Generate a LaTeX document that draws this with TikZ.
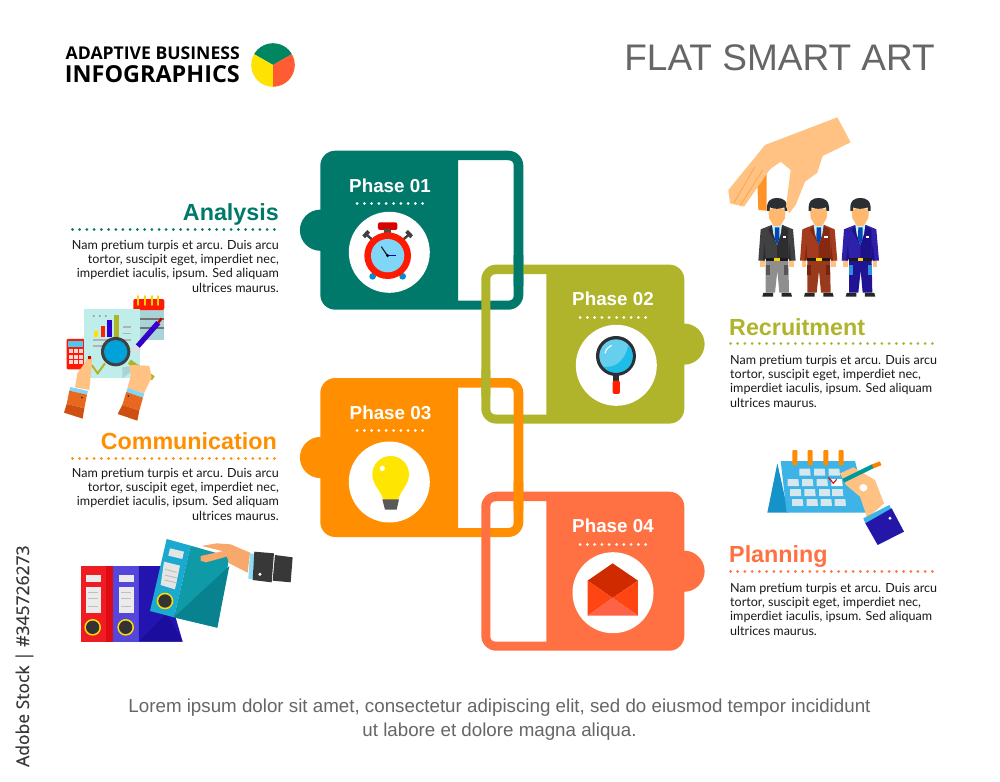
\documentclass[tikz,border=0pt]{standalone}
\usepackage{fontspec}
\setmainfont{Liberation Sans}
\newfontfamily\opensans{Open Sans}
\newfontfamily\opensansfb[FakeBold=0.5]{Open Sans}
\newfontfamily\lato{Lato}
\definecolor{cTeal}{HTML}{00796B}
\definecolor{cOlive}{HTML}{AFB42B}
\definecolor{cOrange}{HTML}{FF8F00}
\definecolor{cCoral}{HTML}{FF7043}
\definecolor{cSkin}{HTML}{FFC282}
\definecolor{cInk}{HTML}{2B2F33}
\definecolor{cGreyJ}{HTML}{414144}\definecolor{cGreyD}{HTML}{2E2E30}\definecolor{cGreyP}{HTML}{8E8E8E}\definecolor{cGreyK}{HTML}{56565A}
\definecolor{cBrownJ}{HTML}{A33B1E}\definecolor{cBrownD}{HTML}{852A10}\definecolor{cBrownP}{HTML}{9A3A1C}\definecolor{cBrownK}{HTML}{742510}
\definecolor{cNavyJ}{HTML}{2E20A8}\definecolor{cNavyD}{HTML}{1C1188}\definecolor{cNavyP}{HTML}{201394}\definecolor{cNavyK}{HTML}{2F8FD8}
\newcommand{\fsz}[2]{\fontsize{#1}{#2}\selectfont}
% puzzle with tab on the left, window on the right: #1 top y, #2 colour
\newcommand{\PuzzleA}[2]{%
  \fill[#2,even odd rule,rounded corners=15pt] (320.3,#1) rectangle (523.3,#1+159)
    [sharp corners] (458,#1+9.5) -- (508,#1+9.5) .. controls (512,#1+9.5) and (513.7,#1+11.5) .. (513.7,#1+15)
    -- (513.7,#1+144.5) .. controls (513.7,#1+148) and (512,#1+150) .. (508,#1+150) -- (458,#1+150) -- cycle;
  \fill[#2] (320.5,#1+79.5) circle[radius=20.6];}
% puzzle with tab on the right, window on the left
\newcommand{\PuzzleB}[2]{%
  \fill[#2,even odd rule,rounded corners=15pt] (481.3,#1) rectangle (684.3,#1+159)
    [sharp corners] (546.3,#1+9.5) -- (496.3,#1+9.5) .. controls (492.3,#1+9.5) and (490.3,#1+11.5) .. (490.3,#1+15)
    -- (490.3,#1+144.5) .. controls (490.3,#1+148) and (492.3,#1+150) .. (496.3,#1+150) -- (546.3,#1+150) -- cycle;
  \fill[#2] (684,#1+79.5) circle[radius=20.6];}
\newcommand{\DotsWhite}[2]{\draw[white,line width=3pt,line cap=round,dash pattern=on 0.01pt off 7.29pt] (#1,#2) -- ++(67,0);}
\newcommand{\Rule}[3]{\draw[#3,line width=3pt,line cap=round,dash pattern=on 0.01pt off 7.2pt] (#1,#2) -- ++(207,0);}
% one man, zoom-5 coordinates; #1 x shift #2 jacket #3 dark #4 trousers #5 pocket
\newcommand{\Person}[5]{%
\begin{scope}[shift={(#1,0)}]
 \fill[cSkin] (120,450) rectangle (134,472); \fill[cSkin] (208,450) rectangle (222,472);
 \fill[#4] (137,452) -- (205,452) -- (207,548) -- (178,548) -- (172,482) -- (165,548) -- (137,548) -- cycle;
 \fill[#5] (137,465) rectangle (149,496); \fill[#5] (193,465) rectangle (205,496);
 \fill[black!85] (127,560) -- (130,549) -- (159,549) -- (159,560) -- cycle;
 \fill[black!85] (185,560) -- (185,549) -- (213,549) -- (216,560) -- cycle;
 \fill[#2] (155,345) -- (188,345) -- (219,358) -- (227,452) -- (208,452) -- (205,445) -- (137,445) -- (134,452) -- (115,452) -- (122,358) -- cycle;
 \fill[#3] (171,405) -- (190,350) -- (204,358) -- (205,445) -- (171,445) -- cycle;
 \fill[#3] (134,400) -- (137,445) -- (132,452) -- (128,452) -- cycle;
 \fill[#3] (208,400) -- (205,445) -- (210,452) -- (214,452) -- cycle;
 \fill[#3] (157,345) -- (171,405) -- (145,360) -- cycle;
 \fill[#3] (185,345) -- (171,405) -- (197,360) -- cycle;
 \fill[black!90] (137,445) rectangle (205,452);
 \fill[yellow!70!orange] (163,444) rectangle (180,453);
 \fill[cyan!20] (155,338) -- (187,338) -- (182,372) -- (171,405) -- (160,372) -- cycle;
 \fill[blue!60!cyan!70!black] (165,352) -- (178,352) -- (178,385) -- (171,405) -- (164,385) -- cycle;
 \fill[white] (188,378) rectangle (198,383);
 \fill[cSkin!85!orange] (145,296) -- (197,296) -- (195,325) -- (180,348) -- (162,348) -- (147,325) -- cycle;
 \fill[cInk] (141,303) .. controls (138,270) and (155,264) .. (171,264) .. controls (190,264) and (204,272) .. (202,303)
   -- (195,303) -- (193,292) .. controls (180,298) and (160,298) .. (150,292) -- (148,303) -- cycle;
\end{scope}}
\begin{document}
\begin{tikzpicture}[x=1pt,y=-1pt,
  phaselabel/.style={anchor=base,text=white,font=\bfseries\fsz{18.8}{20}},
  heading/.style={font=\bfseries\fsz{23.3}{25}},
  bodytext/.style={font=\lato\fsz{12.55}{14.2}\selectfont,text=black!90,inner sep=0pt}]
\useasboundingbox (0,0) rectangle (1000,781);
\fill[white] (0,0) rectangle (1000,781);

% ---------- header
\node[anchor=base east,inner sep=0pt,font=\opensans\bfseries\fsz{17.6}{18}] (brand1) at (240,60) {ADAPTIVE BUSINESS};
\node[anchor=base east,inner sep=0pt,font=\opensans\bfseries\fsz{23.4}{24}] (brand2) at (240,83) {INFOGRAPHICS};
\begin{scope}
 \clip (273,65) circle[radius=21.8];
 \fill[cTeal!90!green] (273,65) -- (233,42) -- (233,30) -- (313,30) -- (313,42) -- cycle;
 \fill[yellow!85!orange] (273,65) -- (233,42) -- (233,110) -- (273,110) -- cycle;
 \fill[red!60!orange!80!white] (273,65) -- (313,42) -- (313,110) -- (273,110) -- cycle;
\end{scope}
\node[anchor=base east,inner sep=0pt,text=black!60,font=\fsz{37}{40}] (title) at (935,71) {FLAT SMART ART};

% ---------- puzzle pieces, woven
\PuzzleA{150.7}{cTeal}
\PuzzleB{264.6}{cOlive}
\begin{scope}\clip (510,255) rectangle (530,285); \PuzzleA{150.7}{cTeal}\end{scope}
\PuzzleA{378}{cOrange}
\begin{scope}\clip (475,370) rectangle (492,395); \PuzzleB{264.6}{cOlive}\end{scope}
\PuzzleB{491.7}{cCoral}
\begin{scope}\clip (510,482) rectangle (530,510); \PuzzleA{378}{cOrange}\end{scope}

\node[phaselabel] (p1) at (390,192) {Phase 01};
\node[phaselabel] (p2) at (613,305.7) {Phase 02};
\node[phaselabel] (p3) at (390.5,419) {Phase 03};
\node[phaselabel] (p4) at (613,532.7) {Phase 04};
\DotsWhite{357}{203.4}
\DotsWhite{580}{317.7}
\DotsWhite{357}{430}
\DotsWhite{580}{544}
\fill[white] (389.3,252.3) circle[radius=40.5];
\fill[white] (616.3,365.3) circle[radius=40.5];
\fill[white] (389.3,482) circle[radius=40.5];
\fill[white] (613,592.7) circle[radius=40.5];

% ---------- clock
\begin{scope}[shift={(290,140)},scale=0.3333]
 \fill[red!85!black,rounded corners=2pt] (264,247) rectangle (322,270);
 \fill[black!70] (283,268) rectangle (303,285);
 \draw[black!75,line width=2.4pt] (225,280) -- (250,302);
 \draw[black!75,line width=2.4pt] (361,280) -- (336,302);
 \fill[black!75] (217,286) -- (232,270) -- (240,278) -- (225,295) -- cycle;
 \fill[black!75] (369,286) -- (354,270) -- (346,278) -- (361,295) -- cycle;
 \fill[blue!30!cyan!80!black] (248,409) circle[radius=10];
 \fill[blue!30!cyan!80!black] (338,409) circle[radius=10];
 \fill[red!80!orange] (293,347) circle[radius=70];
 \fill[cyan!50!white] (293,347) circle[radius=50];
 \draw[black!85,line width=1.2pt] (293,348) -- (274,320);
 \draw[blue!80!black,line width=1.2pt] (293,347) -- (319,347);
 \fill[black] (293,347) circle[radius=5];
\end{scope}
% ---------- magnifier
\begin{scope}[shift={(290,140)},scale=0.3333]
 \definecolor{gBase}{HTML}{1CBDE8}\definecolor{gLight}{HTML}{66CFEE}
 \fill[cInk] (970,700) rectangle (988,725);
 \fill[red!75!orange,rounded corners=2pt] (968,722) rectangle (990,762);
 \fill[cInk] (978,648) circle[radius=60];
 \fill[gLight] (978,648) circle[radius=50];
 \fill[gBase] (1028,648) .. controls (1028,680) and (1005,698) .. (978,698) .. controls (960,698) and (948,690) .. (940,680) .. controls (975,685) and (1005,665) .. (1015,615) .. controls (1024,625) and (1028,635) .. (1028,648) -- cycle;
 \draw[white,line width=1.1pt] (945,640) .. controls (948,628) and (955,620) .. (965,616);
\end{scope}
% ---------- bulb and envelope
\begin{scope}[shift={(290,370)},scale=0.3333]
 \definecolor{eA}{HTML}{D02B00}\definecolor{eB}{HTML}{FF4511}\definecolor{eC}{HTML}{FF6347}
 \fill[yellow!88!orange] (280,390) .. controls (275,365) and (247,345) .. (247,313) .. controls (247,282) and (272,258) .. (302,258)
   .. controls (332,258) and (357,282) .. (357,313) .. controls (357,345) and (329,365) .. (324,390) -- cycle;
 \fill[white] (277,295) circle[radius=8];
 \fill[black!65] (277,388) -- (327,388) -- (320,419) -- (285,419) -- cycle;
 \fill[eA] (893,632) -- (968,580) -- (1044,632) -- (968,684) -- cycle;
 \fill[eB] (893,632) -- (968,684) -- (893,737) -- cycle;
 \fill[eB] (1044,632) -- (968,684) -- (1044,737) -- cycle;
 \fill[eC] (893,737) -- (968,684) -- (1044,737) -- cycle;
\end{scope}

% ---------- side texts
\node[anchor=base east,inner sep=0pt,heading,text=cTeal] (h1) at (279,220) {Analysis};
\Rule{72.5}{229}{cTeal}
\node[anchor=north east,align=right,bodytext] (b1) at (279,240) {Nam pretium turpis et arcu. Duis arcu\\tortor, suscipit eget, imperdiet nec,\\imperdiet iaculis, ipsum. Sed aliquam\\ultrices maurus.};
\node[anchor=base east,inner sep=0pt,heading,text=cOrange] (h3) at (277,449) {Communication};
\Rule{72.5}{458}{cOrange}
\node[anchor=north east,align=right,bodytext] (b3) at (279,468) {Nam pretium turpis et arcu. Duis arcu\\tortor, suscipit eget, imperdiet nec,\\imperdiet iaculis, ipsum. Sed aliquam\\ultrices maurus.};
\node[anchor=base west,inner sep=0pt,heading,text=cOlive] (h2) at (729,335) {Recruitment};
\Rule{730.5}{343}{cOlive}
\node[anchor=north west,align=left,bodytext] (b2) at (730,355) {Nam pretium turpis et arcu. Duis arcu\\tortor, suscipit eget, imperdiet nec,\\imperdiet iaculis, ipsum. Sed aliquam\\ultrices maurus.};
\node[anchor=base west,inner sep=0pt,heading,text=cCoral] (h4) at (729,562) {Planning};
\Rule{730.5}{571}{cCoral}
\node[anchor=north west,align=left,bodytext] (b4) at (730,583) {Nam pretium turpis et arcu. Duis arcu\\tortor, suscipit eget, imperdiet nec,\\imperdiet iaculis, ipsum. Sed aliquam\\ultrices maurus.};

% ---------- footer
\node[anchor=north,align=center,inner sep=0pt,text=black!60,font=\fsz{18.75}{23.6}] (foot) at (499.5,699) {Lorem ipsum dolor sit amet, consectetur adipiscing elit, sed do eiusmod tempor incididunt\\ut labore et dolore magna aliqua.};
\node[rotate=90,anchor=base west,inner sep=0pt,text=black!78,font=\opensansfb\fsz{17.5}{18}] (stock) at (29,767) {Adobe Stock \textbar{} \#345726273};

% ---------- analysis illustration
\begin{scope}[shift={(50,290)},scale=0.3333]
 \definecolor{aDoc}{HTML}{BFEDEA}\definecolor{aCal}{HTML}{A9D3D6}\definecolor{aSl}{HTML}{E8681F}\definecolor{aSd}{HTML}{CF4F10}
 \fill[aCal] (250,55) rectangle (343,150);
 \fill[red!80!orange,rounded corners=2pt] (250,27) rectangle (343,60);
 \foreach \x in {265,285,305,325}{\draw[yellow!70!orange,line width=1.8pt,line cap=round] (\x,18) -- (\x,45);}
 \fill[black!55] (270,83) rectangle (343,90); \fill[black!55] (270,110) rectangle (343,116);
 \fill[red!80!orange,rounded corners=1pt] (50,147) rectangle (105,238);
 \fill[cyan!70!white] (55,152) rectangle (100,170);
 \foreach \x in {56,72,88}{\foreach \y in {178,194,210}{\fill[white!85!red] (\x,\y) rectangle ++(12,12);}}
 \fill[aDoc] (102,56) rectangle (270,265);
 \fill[aCal] (217,265) -- (217,232) -- (270,225) -- cycle;
 \fill[yellow!85!orange] (131,124) rectangle (145,140);
 \fill[red!75!orange] (152,108) rectangle (165,140);
 \fill[blue!65!violet] (172,91) rectangle (187,140);
 \fill[cOlive] (192,75) rectangle (206,140);
 \foreach \y in {108,128,148}{\fill[black!30] (218,\y) rectangle (242,\y+5);}
 \foreach \y in {148,165}{\fill[black!30] (130,\y) rectangle (190,\y+5);}
 \foreach \x in {132,150,168}{\fill[black!45] (\x,78) circle[radius=3];}
 \draw[cOlive,line width=2pt] (125,225) -- (143,250) -- (165,220);
 % pen
 \draw[blue!60!violet,line width=5.2pt] (262,170) -- (325,98);
 \draw[red!80!black,line width=2.4pt] (325,98) -- (335,85);
 \fill[black!12] (246,192) -- (254,161) -- (274,178) -- cycle;
 % magnifier
 \draw[cOlive,line width=5pt] (238,215) -- (310,265);
 \fill[black!75] (197,185) circle[radius=44];
 \fill[blue!25!cyan!85!black] (197,185) circle[radius=35];
 % hands
 \fill[cSkin] (118,197) .. controls (126,197) and (128,205) .. (126,215) -- (118,300) -- (75,292) -- (82,250) -- (100,225) -- cycle;
 \fill[red!80!black] (115,197) rectangle (124,208);
 \fill[cyan!50!white] (61,291) -- (114,303) -- (111,314) -- (58,302) -- cycle;
 \fill[aSl] (58,302) -- (111,314) -- (103,355) -- (50,342) -- cycle;
 \fill[aSd] (50,342) -- (103,355) -- (98,386) -- (42,368) -- cycle;
 \fill[cSkin] (237,228) -- (250,225) -- (298,228) -- (305,262) -- (282,310) -- (232,295) -- (243,255) -- cycle;
 \fill[cyan!50!white] (233,294) -- (283,311) -- (279,323) -- (229,306) -- cycle;
 \fill[aSl] (229,306) -- (279,323) -- (268,362) -- (217,345) -- cycle;
 \fill[aSd] (217,345) -- (268,362) -- (262,392) -- (203,372) -- cycle;
 \fill[black!80] (96,323) circle[radius=3]; \fill[black!80] (235,318) circle[radius=3];
\end{scope}

% ---------- binders
\begin{scope}[shift={(70,530)},scale=0.3333]
 \definecolor{bRed}{HTML}{F01C24}\definecolor{bRedD}{HTML}{DE0A14}\definecolor{bVio}{HTML}{5546DC}\definecolor{bNav}{HTML}{2314B0}\definecolor{bNavD}{HTML}{1B0E9E}
 \definecolor{bSp}{HTML}{1BA9D0}\definecolor{bCv}{HTML}{0F9AA8}\definecolor{bCd}{HTML}{07828E}\definecolor{bHd}{HTML}{F7A86A}
 \fill[bRed] (32,108) rectangle (130,335);
 \fill[bRedD] (108,108) rectangle (130,335);
 \fill[bVio] (130,108) rectangle (207,335);
 \fill[bNav] (207,108) -- (272,108) -- (338,335) -- (207,335) -- cycle;
 \fill[bNavD] (207,335) -- (290,250) -- (338,335) -- cycle;
 \foreach \x in {47,146}{
  \fill[white!92!black] (\x,135) rectangle ++(46,22);
  \fill[white!92!black] (\x,170) rectangle ++(46,80);
  \foreach \y in {185,205,228}{\fill[black!25] (\x+8,\y) rectangle ++(30,3);}
  \fill[yellow!80!orange] (\x+21,292) circle[radius=25];
  \fill[black!80] (\x+21,292) circle[radius=20];
 }
 \fill[bSp] (290,27) -- (362,47) -- (312,262) -- (240,243) -- cycle;
 \fill[bCv] (362,47) -- (478,80) -- (442,293) -- (312,262) -- cycle;
 \fill[bCd] (312,262) -- (478,108) -- (442,293) -- cycle;
 \fill[white!90!black] (300,55) -- (342,65) -- (337,87) -- (295,77) -- cycle;
 \fill[white!90!black] (282,95) -- (330,107) -- (315,178) -- (272,165) -- cycle;
 \foreach \y in {118,135,150}{\draw[black!25,line width=1pt] (285,\y) -- (320,\y+9);}
 \fill[yellow!80!orange] (285,213) circle[radius=25];
 \fill[black!80] (285,213) circle[radius=20];
 \fill[bHd] (395,48) -- (440,40) -- (482,43) -- (540,68) -- (533,128) -- (478,100) -- (465,65) -- cycle;
 \fill[bHd] (392,78) -- (465,62) -- (470,80) -- (408,97) -- (392,92) -- cycle;
 \fill[cyan!45!white] (540,70) -- (553,72) -- (548,148) -- (535,146) -- cycle;
 \fill[black!78] (553,65) -- (612,70) -- (605,157) -- (548,150) -- cycle;
 \fill[black!78] (615,75) -- (668,82) -- (662,157) -- (608,152) -- cycle;
 \fill[white] (570,133) circle[radius=5];
\end{scope}

% ---------- recruitment illustration
\begin{scope}[shift={(720,110)},scale=0.3333]
 \Person{0}{cGreyJ}{cGreyD}{cGreyP}{cGreyK}
 \Person{125}{cBrownJ}{cBrownD}{cBrownP}{cBrownK}
 \Person{250}{cNavyJ}{cNavyD}{cNavyP}{cNavyK}
 \fill[orange!70!cSkin] (140,185) -- (112,222) -- (115,300) -- (140,302) -- cycle;
 \fill[cSkin] (352,22) -- (392,97) -- (308,138) -- (292,188) -- (255,215) -- (228,283) -- (208,310) -- (198,290) -- (212,180) -- (182,155)
   -- (150,178) -- (72,290) -- (30,280) -- (25,240) -- (135,105) -- cycle;
 \draw[orange!50!cSkin,line width=0.7pt] (128,180) -- (62,285);
 \draw[orange!50!cSkin,line width=0.7pt] (105,170) -- (42,278);
\end{scope}

% ---------- calendar illustration
\begin{scope}[shift={(760,440)},scale=0.3333]
 \definecolor{kDark}{HTML}{1593C8}\definecolor{kFace}{HTML}{3DB3E6}\definecolor{kTile}{HTML}{D6E8EE}\definecolor{kSl}{HTML}{2316A8}
 \fill[kDark] (52,70) -- (22,218) -- (85,218) -- cycle;
 \fill[kFace] (62,63) -- (285,63) -- (325,218) -- (80,218) -- cycle;
 \foreach \x in {97,143,190,236}{\fill[orange!90!yellow,rounded corners=1pt] (\x,30) rectangle ++(15,46);}
 \foreach \x/\y in {118/86,162/86,206/86,83/117,126/117,170/117,90/147,133/147,177/147,216/147,96/177,140/177,182/177,224/177}{
   \fill[kTile] (\x,\y) -- ++(32,0) -- ++(2,21) -- ++(-34,0) -- cycle;}
 \fill[white] (214,117) -- ++(32,0) -- ++(2,21) -- ++(-34,0) -- cycle;
 \draw[red!90!black,line width=1pt] (205,112) -- (220,130) -- (230,118);
 \fill[cSkin] (240,100) -- (280,82) -- (345,120) -- (372,190) -- (322,235) -- (300,170) -- (258,135) -- cycle;
 \fill[white] (310,143) ellipse[x radius=12,y radius=11];
 \draw[teal!80!cyan,line width=4.2pt] (250,122) -- (340,78);
 \draw[orange,line width=4.2pt] (338,79) -- (362,70);
 \fill[kFace] (310,235) -- (388,195) -- (394,208) -- (316,250) -- cycle;
 \fill[kSl] (316,250) -- (395,205) -- (432,275) -- (353,315) -- cycle;
 \fill[white] (390,235) circle[radius=5];
\end{scope}
\end{tikzpicture}
\end{document}
